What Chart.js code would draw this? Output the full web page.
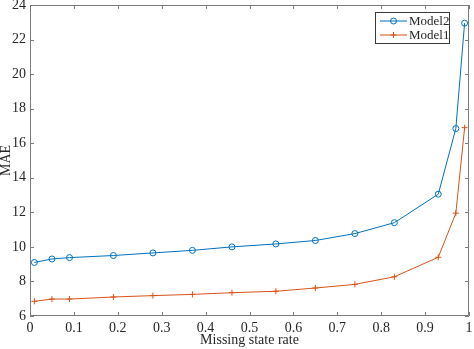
<!DOCTYPE html>
<html>
<head>
<meta charset="utf-8">
<script src="https://cdn.jsdelivr.net/npm/chart.js@4.4.1/dist/chart.umd.min.js"></script>
<style>
html,body{margin:0;padding:0;background:#fff;overflow:hidden;}
#wrap{position:relative;width:474px;height:349px;}
</style>
</head>
<body>
<div id="wrap"><canvas id="c" width="474" height="349"></canvas></div>
<script>
const missingRate = [0.01, 0.05, 0.09, 0.19, 0.28, 0.37, 0.46, 0.56, 0.65, 0.74, 0.83, 0.93, 0.97, 0.99];
const model2 = [9.1, 9.3, 9.38, 9.5, 9.65, 9.8, 10.0, 10.17, 10.37, 10.77, 11.4, 13.05, 16.85, 22.95];
const model1 = [6.85, 6.98, 6.98, 7.1, 7.18, 7.25, 7.35, 7.43, 7.62, 7.83, 8.27, 9.4, 11.95, 16.9];
const seriesLabels = ['Model2', 'Model1'];
const xTicks = [0, 0.1, 0.2, 0.3, 0.4, 0.5, 0.6, 0.7, 0.8, 0.9, 1];
const yTicks = [6, 8, 10, 12, 14, 16, 18, 20, 22, 24];
const xTitle = 'Missing state rate';
const yTitle = 'MAE';

const FONT = '"Liberation Serif", "Times New Roman", serif';
const AXIS = '#7c7c7c';
const TXT = '#262626';
const BLUE = '#0072BD';
const ORANGE = '#D95319';

const toPts = (xs, ys) => xs.map((x, i) => ({x: x, y: ys[i]}));

const boxPlugin = {
  id: 'boxTicks',
  afterDatasetsDraw(chart) {
    const ctx = chart.ctx;
    const a = chart.chartArea;
    const xs = chart.scales.x, ys = chart.scales.y;
    ctx.save();
    ctx.strokeStyle = AXIS;
    ctx.lineWidth = 1;
    ctx.beginPath();
    ctx.rect(a.left + 0.5, a.top + 0.5, a.right - a.left - 1, a.bottom - a.top - 1);
    ctx.stroke();
    const L = 4;
    ctx.beginPath();
    xs.ticks.forEach(t => {
      const px = Math.round(xs.getPixelForValue(t.value)) + 0.5;
      ctx.moveTo(px, a.bottom); ctx.lineTo(px, a.bottom - L);
      ctx.moveTo(px, a.top); ctx.lineTo(px, a.top + L);
    });
    ys.ticks.forEach(t => {
      const py = Math.round(ys.getPixelForValue(t.value)) + 0.5;
      ctx.moveTo(a.left, py); ctx.lineTo(a.left + L, py);
      ctx.moveTo(a.right, py); ctx.lineTo(a.right - L, py);
    });
    ctx.stroke();

    // legend box
    const bx = 375, by = 12, bw = 74, bh = 31;
    ctx.fillStyle = '#fff';
    ctx.fillRect(bx, by, bw, bh);
    ctx.strokeStyle = '#3a3a3a';
    ctx.strokeRect(bx + 0.5, by + 0.5, bw, bh);
    ctx.font = '13px ' + FONT;
    ctx.textBaseline = 'middle';
    ctx.textAlign = 'left';
    chart.data.datasets.forEach((ds, i) => {
      const cy = by + 9 + i * 14;
      ctx.strokeStyle = ds.borderColor;
      ctx.lineWidth = 1;
      ctx.beginPath();
      ctx.moveTo(bx + 5, cy); ctx.lineTo(bx + 32, cy);
      ctx.stroke();
      const mx = bx + 18.5;
      ctx.beginPath();
      if (ds.pointStyle === 'circle') {
        ctx.arc(mx, cy, 3, 0, Math.PI * 2);
      } else {
        ctx.moveTo(mx - 3, cy); ctx.lineTo(mx + 3, cy);
        ctx.moveTo(mx, cy - 3); ctx.lineTo(mx, cy + 3);
      }
      ctx.stroke();
      ctx.fillStyle = TXT;
      ctx.fillText(ds.label, bx + 34, cy + 0.5);
    });
    ctx.restore();
  }
};

new Chart(document.getElementById('c'), {
  type: 'scatter',
  data: {
    datasets: [
      {label: seriesLabels[0], data: toPts(missingRate, model2), showLine: true,
       borderColor: BLUE, backgroundColor: 'rgba(0,0,0,0)', borderWidth: 1,
       pointStyle: 'circle', pointRadius: 3, pointBorderWidth: 1, pointBorderColor: BLUE},
      {label: seriesLabels[1], data: toPts(missingRate, model1), showLine: true,
       borderColor: ORANGE, backgroundColor: 'rgba(0,0,0,0)', borderWidth: 1,
       pointStyle: 'cross', pointRadius: 3, pointBorderWidth: 1, pointBorderColor: ORANGE}
    ]
  },
  options: {
    responsive: false,
    animation: false,
    devicePixelRatio: 1,
    layout: {padding: 0},
    plugins: {legend: {display: false}, tooltip: {enabled: false}},
    scales: {
      x: {
        type: 'linear', min: 0, max: 1,
        afterBuildTicks: s => { s.ticks = xTicks.map(v => ({value: v})); },
        afterFit: s => { s.height = 33; s.paddingLeft = 0; s.paddingRight = 0; },
        grid: {display: false, drawTicks: false},
        border: {display: false},
        ticks: {color: TXT, font: {family: FONT, size: 14}, padding: 4, maxRotation: 0,
                autoSkip: false, callback: v => String(v)},
        title: {display: true, text: xTitle, color: TXT, font: {family: FONT, size: 14}, padding: {top: 0, bottom: 0}}
      },
      y: {
        type: 'linear', min: 6, max: 24,
        afterBuildTicks: s => { s.ticks = yTicks.map(v => ({value: v})); },
        afterFit: s => { s.width = 30; s.paddingTop = 0; s.paddingBottom = 0; },
        grid: {display: false, drawTicks: false},
        border: {display: false},
        ticks: {color: TXT, font: {family: FONT, size: 14}, padding: 4, autoSkip: false,
                callback: v => String(v)},
        title: {display: true, text: yTitle, color: TXT, font: {family: FONT, size: 14}, padding: {top: -2, bottom: 0}}
      }
    }
  },
  plugins: [boxPlugin]
});
</script>
</body>
</html>
